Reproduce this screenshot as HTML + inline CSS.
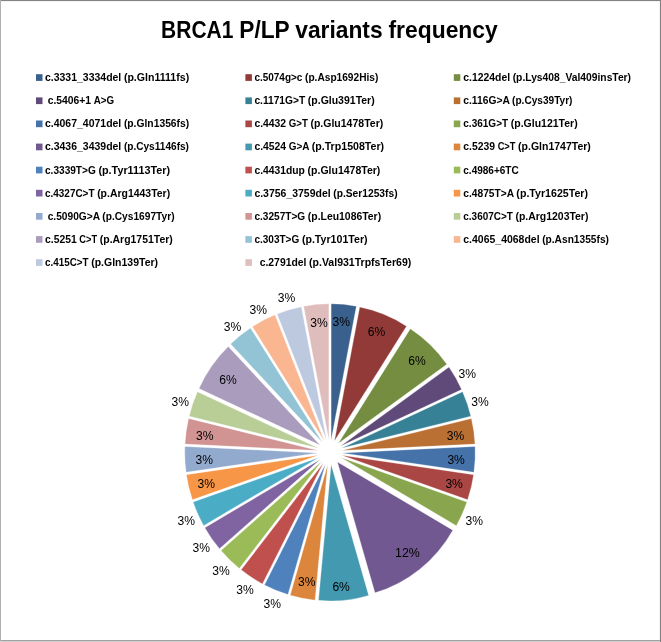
<!DOCTYPE html>
<html lang="en"><head><meta charset="utf-8"><title>BRCA1 P/LP variants frequency</title>
<style>
html,body{margin:0;padding:0;background:#fff;}
svg{display:block;}
text{font-family:"Liberation Sans",sans-serif;fill:#000;}
.t{font-weight:bold;font-size:24px;}
.l{font-weight:bold;font-size:10.8px;}
.d{font-size:13.4px;}
</style></head><body>
<svg width="661" height="642" viewBox="0 0 661 642">
<rect x="0" y="0" width="661" height="642" fill="#fff"/>

<rect x="0" y="1" width="661" height="1" fill="#f5f5f5"/>
<rect x="659" y="0" width="1" height="641" fill="#f2f2f2"/>
<rect x="0" y="641" width="661" height="1" fill="#d2d2d2"/>
<rect x="0" y="640" width="661" height="1" fill="#a0a0a0"/>
<rect x="0" y="0" width="661" height="1" fill="#828282"/>
<rect x="0" y="0" width="1" height="641" fill="#b0b0b0"/>
<rect x="660" y="0" width="1" height="642" fill="#828282"/>
<text class="t" y="38.0"><tspan x="161.10" textLength="72.26" lengthAdjust="spacingAndGlyphs">BRCA1</tspan> <tspan x="239.25" textLength="50.09" lengthAdjust="spacingAndGlyphs">P/LP</tspan> <tspan x="295.24" textLength="87.36" lengthAdjust="spacingAndGlyphs">variants</tspan> <tspan x="388.51" textLength="109.22" lengthAdjust="spacingAndGlyphs">frequency</tspan></text>
<rect x="36" y="74.2" width="6.5" height="6.7" fill="#3A608E"/>
<text class="l" y="81.0"><tspan x="45.00" textLength="76.26" lengthAdjust="spacingAndGlyphs">c.3331_3334del</tspan> <tspan x="123.89" textLength="65.33" lengthAdjust="spacingAndGlyphs">(p.Gln1111fs)</tspan></text>
<rect x="245.4" y="74.2" width="6.5" height="6.7" fill="#913A38"/>
<text class="l" y="81.0"><tspan x="254.40" textLength="47.97" lengthAdjust="spacingAndGlyphs">c.5074g&gt;c</tspan> <tspan x="305.02" textLength="73.31" lengthAdjust="spacingAndGlyphs">(p.Asp1692His)</tspan></text>
<rect x="453.8" y="74.2" width="6.5" height="6.7" fill="#748D41"/>
<text class="l" y="81.0"><tspan x="463.30" textLength="46.74" lengthAdjust="spacingAndGlyphs">c.1224del</tspan> <tspan x="512.68" textLength="118.37" lengthAdjust="spacingAndGlyphs">(p.Lys408_Val409insTer)</tspan></text>
<rect x="36" y="97.4" width="6.5" height="6.7" fill="#5F4A79"/>
<text class="l" y="104.2"><tspan x="47.65" textLength="43.46" lengthAdjust="spacingAndGlyphs">c.5406+1</tspan> <tspan x="93.75" textLength="20.36" lengthAdjust="spacingAndGlyphs">A&gt;G</tspan></text>
<rect x="245.4" y="97.4" width="6.5" height="6.7" fill="#368195"/>
<text class="l" y="104.2"><tspan x="254.40" textLength="50.77" lengthAdjust="spacingAndGlyphs">c.1171G&gt;T</tspan> <tspan x="307.82" textLength="66.87" lengthAdjust="spacingAndGlyphs">(p.Glu391Ter)</tspan></text>
<rect x="453.8" y="97.4" width="6.5" height="6.7" fill="#BB7033"/>
<text class="l" y="104.2"><tspan x="463.30" textLength="46.14" lengthAdjust="spacingAndGlyphs">c.116G&gt;A</tspan> <tspan x="512.09" textLength="60.39" lengthAdjust="spacingAndGlyphs">(p.Cys39Tyr)</tspan></text>
<rect x="36" y="120.5" width="6.5" height="6.7" fill="#4572A8"/>
<text class="l" y="127.3"><tspan x="45.00" textLength="76.26" lengthAdjust="spacingAndGlyphs">c.4067_4071del</tspan> <tspan x="123.89" textLength="65.33" lengthAdjust="spacingAndGlyphs">(p.Gln1356fs)</tspan></text>
<rect x="245.4" y="120.5" width="6.5" height="6.7" fill="#AA4643"/>
<text class="l" y="127.3"><tspan x="254.40" textLength="31.72" lengthAdjust="spacingAndGlyphs">c.4432</tspan> <tspan x="288.76" textLength="19.07" lengthAdjust="spacingAndGlyphs">G&gt;T</tspan> <tspan x="310.45" textLength="72.79" lengthAdjust="spacingAndGlyphs">(p.Glu1478Ter)</tspan></text>
<rect x="453.8" y="120.5" width="6.5" height="6.7" fill="#89A64E"/>
<text class="l" y="127.3"><tspan x="463.30" textLength="44.85" lengthAdjust="spacingAndGlyphs">c.361G&gt;T</tspan> <tspan x="510.78" textLength="66.87" lengthAdjust="spacingAndGlyphs">(p.Glu121Ter)</tspan></text>
<rect x="36" y="143.6" width="6.5" height="6.7" fill="#715890"/>
<text class="l" y="150.4"><tspan x="45.00" textLength="76.26" lengthAdjust="spacingAndGlyphs">c.3436_3439del</tspan> <tspan x="123.89" textLength="65.12" lengthAdjust="spacingAndGlyphs">(p.Cys1146fs)</tspan></text>
<rect x="245.4" y="143.6" width="6.5" height="6.7" fill="#4299B0"/>
<text class="l" y="150.4"><tspan x="254.40" textLength="31.72" lengthAdjust="spacingAndGlyphs">c.4524</tspan> <tspan x="288.76" textLength="20.36" lengthAdjust="spacingAndGlyphs">G&gt;A</tspan> <tspan x="311.74" textLength="72.41" lengthAdjust="spacingAndGlyphs">(p.Trp1508Ter)</tspan></text>
<rect x="453.8" y="143.6" width="6.5" height="6.7" fill="#DC853D"/>
<text class="l" y="150.4"><tspan x="463.30" textLength="31.72" lengthAdjust="spacingAndGlyphs">c.5239</tspan> <tspan x="497.66" textLength="17.81" lengthAdjust="spacingAndGlyphs">C&gt;T</tspan> <tspan x="518.09" textLength="72.79" lengthAdjust="spacingAndGlyphs">(p.Gln1747Ter)</tspan></text>
<rect x="36" y="166.7" width="6.5" height="6.7" fill="#4F81BD"/>
<text class="l" y="173.5"><tspan x="45.00" textLength="50.77" lengthAdjust="spacingAndGlyphs">c.3339T&gt;G</tspan> <tspan x="98.42" textLength="71.68" lengthAdjust="spacingAndGlyphs">(p.Tyr1113Ter)</tspan></text>
<rect x="245.4" y="166.7" width="6.5" height="6.7" fill="#C0504D"/>
<text class="l" y="173.5"><tspan x="254.40" textLength="50.53" lengthAdjust="spacingAndGlyphs">c.4431dup</tspan> <tspan x="307.57" textLength="72.79" lengthAdjust="spacingAndGlyphs">(p.Glu1478Ter)</tspan></text>
<rect x="453.8" y="166.7" width="6.5" height="6.7" fill="#9BBB59"/>
<text class="l" y="173.5"><tspan x="463.30" textLength="55.43" lengthAdjust="spacingAndGlyphs">c.4986+6TC</tspan></text>
<rect x="36" y="189.8" width="6.5" height="6.7" fill="#8064A2"/>
<text class="l" y="196.7"><tspan x="45.00" textLength="49.51" lengthAdjust="spacingAndGlyphs">c.4327C&gt;T</tspan> <tspan x="97.15" textLength="72.99" lengthAdjust="spacingAndGlyphs">(p.Arg1443Ter)</tspan></text>
<rect x="245.4" y="189.8" width="6.5" height="6.7" fill="#4BACC6"/>
<text class="l" y="196.7"><tspan x="254.40" textLength="76.26" lengthAdjust="spacingAndGlyphs">c.3756_3759del</tspan> <tspan x="333.29" textLength="64.30" lengthAdjust="spacingAndGlyphs">(p.Ser1253fs)</tspan></text>
<rect x="453.8" y="189.8" width="6.5" height="6.7" fill="#F79646"/>
<text class="l" y="196.7"><tspan x="463.30" textLength="50.40" lengthAdjust="spacingAndGlyphs">c.4875T&gt;A</tspan> <tspan x="516.35" textLength="71.68" lengthAdjust="spacingAndGlyphs">(p.Tyr1625Ter)</tspan></text>
<rect x="36" y="213.0" width="6.5" height="6.7" fill="#93AACF"/>
<text class="l" y="219.8"><tspan x="47.65" textLength="52.06" lengthAdjust="spacingAndGlyphs">c.5090G&gt;A</tspan> <tspan x="102.34" textLength="72.24" lengthAdjust="spacingAndGlyphs">(p.Cys1697Tyr)</tspan></text>
<rect x="245.4" y="213.0" width="6.5" height="6.7" fill="#D19493"/>
<text class="l" y="219.8"><tspan x="254.40" textLength="50.77" lengthAdjust="spacingAndGlyphs">c.3257T&gt;G</tspan> <tspan x="307.82" textLength="73.31" lengthAdjust="spacingAndGlyphs">(p.Leu1086Ter)</tspan></text>
<rect x="453.8" y="213.0" width="6.5" height="6.7" fill="#B9CE97"/>
<text class="l" y="219.8"><tspan x="463.30" textLength="49.51" lengthAdjust="spacingAndGlyphs">c.3607C&gt;T</tspan> <tspan x="515.45" textLength="72.99" lengthAdjust="spacingAndGlyphs">(p.Arg1203Ter)</tspan></text>
<rect x="36" y="236.1" width="6.5" height="6.7" fill="#A99CBD"/>
<text class="l" y="242.9"><tspan x="45.00" textLength="31.72" lengthAdjust="spacingAndGlyphs">c.5251</tspan> <tspan x="79.36" textLength="17.81" lengthAdjust="spacingAndGlyphs">C&gt;T</tspan> <tspan x="99.79" textLength="72.99" lengthAdjust="spacingAndGlyphs">(p.Arg1751Ter)</tspan></text>
<rect x="245.4" y="236.1" width="6.5" height="6.7" fill="#92C4D5"/>
<text class="l" y="242.9"><tspan x="254.40" textLength="44.85" lengthAdjust="spacingAndGlyphs">c.303T&gt;G</tspan> <tspan x="301.88" textLength="65.76" lengthAdjust="spacingAndGlyphs">(p.Tyr101Ter)</tspan></text>
<rect x="453.8" y="236.1" width="6.5" height="6.7" fill="#F9B690"/>
<text class="l" y="242.9"><tspan x="463.30" textLength="76.26" lengthAdjust="spacingAndGlyphs">c.4065_4068del</tspan> <tspan x="542.19" textLength="66.75" lengthAdjust="spacingAndGlyphs">(p.Asn1355fs)</tspan></text>
<rect x="36" y="259.2" width="6.5" height="6.7" fill="#BDC9DF"/>
<text class="l" y="266.0"><tspan x="45.00" textLength="43.59" lengthAdjust="spacingAndGlyphs">c.415C&gt;T</tspan> <tspan x="91.23" textLength="66.87" lengthAdjust="spacingAndGlyphs">(p.Gln139Ter)</tspan></text>
<rect x="245.4" y="259.2" width="6.5" height="6.7" fill="#E0BDBD"/>
<text class="l" y="266.0"><tspan x="259.70" textLength="46.74" lengthAdjust="spacingAndGlyphs">c.2791del</tspan> <tspan x="309.07" textLength="102.25" lengthAdjust="spacingAndGlyphs">(p.Val931TrpfsTer69)</tspan></text>
<g transform="translate(330.0 452.35) scale(0.9774 1)" stroke="#fff" stroke-width="0.3" stroke-linejoin="miter">
<path d="M1.16 -12.19L1.16 -148.59A136.4 136.4 0 0 1 26.98 -146.13Z" fill="#3A608E"/>
<path d="M4.55 -11.37L30.37 -145.31A136.4 136.4 0 0 1 78.30 -126.12Z" fill="#913A38"/>
<path d="M8.45 -8.87L82.20 -123.61A136.4 136.4 0 0 1 119.56 -87.99Z" fill="#748D41"/>
<path d="M10.61 -6.12L121.72 -85.24A136.4 136.4 0 0 1 134.68 -62.79Z" fill="#5F4A79"/>
<path d="M11.58 -4.01L135.65 -60.67A136.4 136.4 0 0 1 144.13 -36.16Z" fill="#368195"/>
<path d="M12.13 -1.74L144.68 -33.90A136.4 136.4 0 0 1 148.37 -8.23Z" fill="#BB7033"/>
<path d="M12.24 0.58L148.48 -5.91A136.4 136.4 0 0 1 147.25 19.99Z" fill="#4572A8"/>
<path d="M11.90 2.89L146.92 22.30A136.4 136.4 0 0 1 140.80 47.50Z" fill="#AA4643"/>
<path d="M11.14 5.09L140.04 49.70A136.4 136.4 0 0 1 129.27 73.29Z" fill="#89A64E"/>
<path d="M7.57 9.63L125.70 77.83A136.4 136.4 0 0 1 46.00 140.50Z" fill="#715890"/>
<path d="M1.16 12.19L39.59 143.07A136.4 136.4 0 0 1 -11.80 147.98Z" fill="#4299B0"/>
<path d="M-2.32 12.03L-15.28 147.81A136.4 136.4 0 0 1 -40.75 142.90Z" fill="#DC853D"/>
<path d="M-4.55 11.37L-42.98 142.25A136.4 136.4 0 0 1 -67.05 132.61Z" fill="#4F81BD"/>
<path d="M-6.62 10.31L-69.12 131.54A136.4 136.4 0 0 1 -90.94 117.52Z" fill="#C0504D"/>
<path d="M-8.45 8.87L-92.77 116.08A136.4 136.4 0 0 1 -111.54 98.19Z" fill="#9BBB59"/>
<path d="M-9.98 7.11L-113.06 96.43A136.4 136.4 0 0 1 -128.10 75.31Z" fill="#8064A2"/>
<path d="M-11.14 5.09L-129.27 73.29A136.4 136.4 0 0 1 -140.04 49.70Z" fill="#4BACC6"/>
<path d="M-11.90 2.89L-140.80 47.50A136.4 136.4 0 0 1 -146.92 22.30Z" fill="#F79646"/>
<path d="M-12.24 0.58L-147.25 19.99A136.4 136.4 0 0 1 -148.48 -5.91Z" fill="#93AACF"/>
<path d="M-12.13 -1.74L-148.37 -8.23A136.4 136.4 0 0 1 -144.68 -33.90Z" fill="#D19493"/>
<path d="M-11.58 -4.01L-144.13 -36.16A136.4 136.4 0 0 1 -135.65 -60.67Z" fill="#B9CE97"/>
<path d="M-9.98 -7.11L-134.05 -63.77A136.4 136.4 0 0 1 -104.11 -105.82Z" fill="#A99CBD"/>
<path d="M-7.57 -9.63L-101.70 -108.35A136.4 136.4 0 0 1 -81.32 -124.38Z" fill="#92C4D5"/>
<path d="M-5.61 -10.89L-79.36 -125.64A136.4 136.4 0 0 1 -56.31 -137.52Z" fill="#F9B690"/>
<path d="M-3.45 -11.75L-54.15 -138.38A136.4 136.4 0 0 1 -29.27 -145.69Z" fill="#BDC9DF"/>
<path d="M-1.16 -12.19L-26.98 -146.13A136.4 136.4 0 0 1 -1.16 -148.59Z" fill="#E0BDBD"/>
</g>
<text class="d" x="332.5" y="326.0" textLength="17.5" lengthAdjust="spacingAndGlyphs">3%</text>
<text class="d" x="367.8" y="335.7" textLength="17.5" lengthAdjust="spacingAndGlyphs">6%</text>
<text class="d" x="408.2" y="364.5" textLength="17.5" lengthAdjust="spacingAndGlyphs">6%</text>
<text class="d" x="458.6" y="377.6" textLength="17.5" lengthAdjust="spacingAndGlyphs">3%</text>
<text class="d" x="471.2" y="406.0" textLength="17.5" lengthAdjust="spacingAndGlyphs">3%</text>
<text class="d" x="446.7" y="440.1" textLength="17.5" lengthAdjust="spacingAndGlyphs">3%</text>
<text class="d" x="447.4" y="463.9" textLength="17.5" lengthAdjust="spacingAndGlyphs">3%</text>
<text class="d" x="445.4" y="488.2" textLength="17.5" lengthAdjust="spacingAndGlyphs">3%</text>
<text class="d" x="465.6" y="524.8" textLength="17.5" lengthAdjust="spacingAndGlyphs">3%</text>
<text class="d" x="395.1" y="556.5" textLength="24.8" lengthAdjust="spacingAndGlyphs">12%</text>
<text class="d" x="332.4" y="591.4" textLength="17.5" lengthAdjust="spacingAndGlyphs">6%</text>
<text class="d" x="298.1" y="586.4" textLength="17.5" lengthAdjust="spacingAndGlyphs">3%</text>
<text class="d" x="263.6" y="608.2" textLength="17.5" lengthAdjust="spacingAndGlyphs">3%</text>
<text class="d" x="236.3" y="594.1" textLength="17.5" lengthAdjust="spacingAndGlyphs">3%</text>
<text class="d" x="212.2" y="575.0" textLength="17.5" lengthAdjust="spacingAndGlyphs">3%</text>
<text class="d" x="192.5" y="551.8" textLength="17.5" lengthAdjust="spacingAndGlyphs">3%</text>
<text class="d" x="177.6" y="524.9" textLength="17.5" lengthAdjust="spacingAndGlyphs">3%</text>
<text class="d" x="197.6" y="488.1" textLength="17.5" lengthAdjust="spacingAndGlyphs">3%</text>
<text class="d" x="195.6" y="463.8" textLength="17.5" lengthAdjust="spacingAndGlyphs">3%</text>
<text class="d" x="196.1" y="439.9" textLength="17.5" lengthAdjust="spacingAndGlyphs">3%</text>
<text class="d" x="171.6" y="405.9" textLength="17.5" lengthAdjust="spacingAndGlyphs">3%</text>
<text class="d" x="219.2" y="384.0" textLength="17.5" lengthAdjust="spacingAndGlyphs">6%</text>
<text class="d" x="223.8" y="330.8" textLength="17.5" lengthAdjust="spacingAndGlyphs">3%</text>
<text class="d" x="249.6" y="314.2" textLength="17.5" lengthAdjust="spacingAndGlyphs">3%</text>
<text class="d" x="277.7" y="302.1" textLength="17.5" lengthAdjust="spacingAndGlyphs">3%</text>
<text class="d" x="310.2" y="326.7" textLength="17.5" lengthAdjust="spacingAndGlyphs">3%</text>
</svg></body></html>
